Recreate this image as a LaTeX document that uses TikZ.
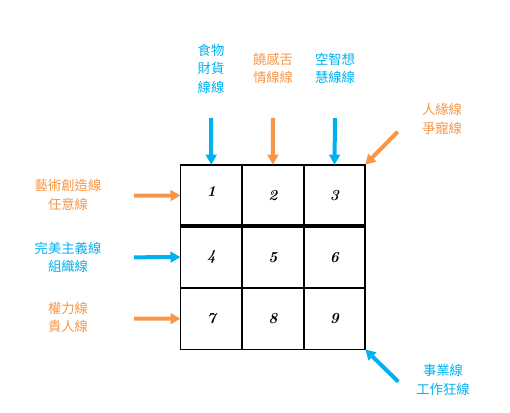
\documentclass[tikz,border=0pt]{standalone}
\usepackage{fontspec}
\newfontfamily\cjk{Noto Sans CJK TC}
\usetikzlibrary{positioning,arrows.meta}
\definecolor{cian}{HTML}{00B0F0}
\definecolor{naranja}{HTML}{F79646}

\begin{document}
\begin{tikzpicture}[x=0.75pt,y=-0.75pt,font=\cjk\fontsize{10}{13.9}\selectfont,
        c/.style={draw,line width=1.3pt,outer sep=0pt,minimum size=46.2pt,
          font=\fontsize{11.5}{12}\selectfont\bfseries\itshape},
        lb/.style={align=center,inner sep=0pt},
        f/.style={-{Triangle[length=7.5pt,width=8pt]},line width=3pt}]
        \useasboundingbox (0,0) rectangle (510,413);
        \node[c] (c1) at (211.3,195.5) {\raisebox{6pt}{1}};
        \node[c,right=0pt of c1] (c2) {2};
        \node[c,right=0pt of c2] (c3) {3};
        \node[c,below=0pt of c1] (c4) {4};
        \node[c,right=0pt of c4] (c5) {5};
        \node[c,right=0pt of c5] (c6) {6};
        \node[c,below=0pt of c4] (c7) {7};
        \node[c,right=0pt of c7] (c8) {8};
        \node[c,right=0pt of c8] (c9) {9};
        \draw[line width=3pt] (c4.north west) -- (c6.north east);
        \coordinate (t1) at (211,118); \coordinate (t2) at (273,118); \coordinate (t3) at (335,118);
        \coordinate (s1) at (134,195.7); \coordinate (s2) at (134,257.3); \coordinate (s3) at (134,318.7);
        \coordinate (d1) at (397.7,131.7); \coordinate (d2) at (398.3,381.7);
        \draw[f,cian] (t1) -- (c1.north); \draw[f,naranja] (t2) -- (c2.north); \draw[f,cian] (t3) -- (c3.north);
        \draw[f,naranja] (s1) -- (c1.west); \draw[f,cian] (s2) -- (c4.west); \draw[f,naranja] (s3) -- (c7.west);
        \draw[f,naranja] (d1) -- (c3.north east); \draw[f,cian] (d2) -- (c9.south east);
        \node[lb,text=cian] (l1) at (211,68.5) {食物\\財貨\\線線};
        \node[lb,text=naranja] (l2) at (273,68.5) {饒感舌\\情線線};
        \node[lb,text=cian] (l3) at (335,68.5) {空智想\\慧線線};
        \node[lb,text=naranja] (l4) at (442,119) {人緣線\\爭寵線};
        \node[lb,text=naranja] (l5) at (68,195) {藝術創造線\\任意線};
        \node[lb,text=cian] (l6) at (68,257.5) {完美主義線\\組織線};
        \node[lb,text=naranja] (l7) at (68,317.5) {權力線\\貴人線};
        \node[lb,text=cian] (l8) at (443,380) {事業線\\工作狂線};
      \end{tikzpicture}
\end{document}
